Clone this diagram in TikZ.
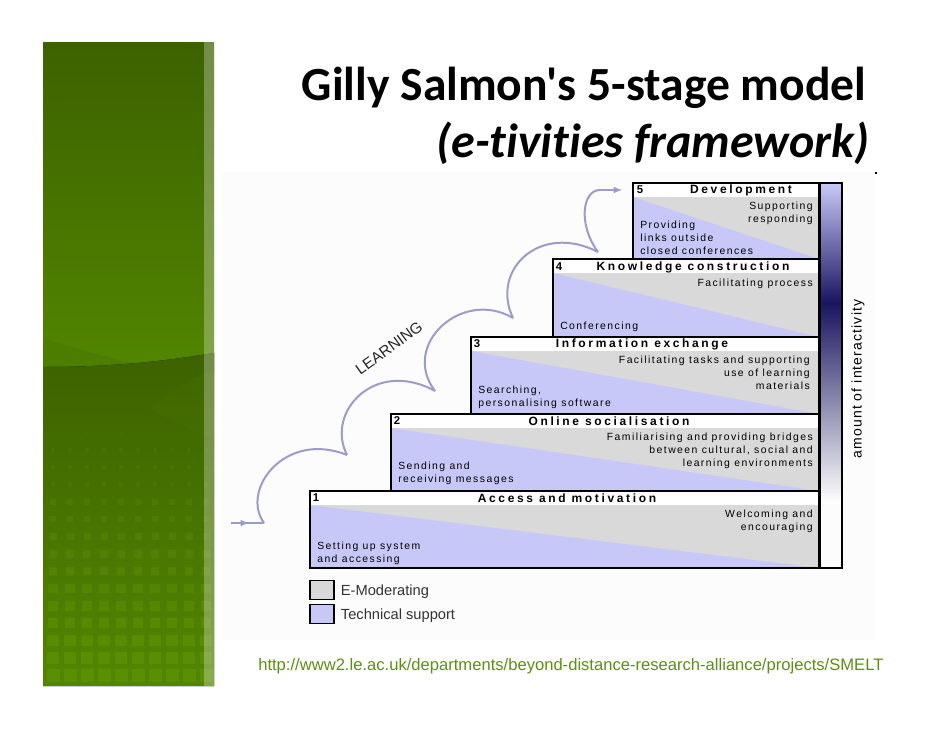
\documentclass[tikz,border=0pt]{standalone}
\usepackage{fontspec}
\setmainfont{Liberation Sans}
\newfontfamily\titlefont[Ligatures=NoCommon]{Carlito}
\newfontfamily\stagefont[LetterSpace=14]{Liberation Sans}
\newfontfamily\headfont[LetterSpace=22]{Liberation Sans}
\newfontfamily\barfont[LetterSpace=8]{Liberation Sans}
\usetikzlibrary{arrows.meta}
\definecolor{panelgreen}{HTML}{528600}
\definecolor{paneldark}{HTML}{3D6200}
\definecolor{panelspot}{HTML}{6FA50A}
\definecolor{emodgrey}{HTML}{D9D9D9}
\definecolor{techblue}{HTML}{C8C8F8}
\definecolor{barnavy}{HTML}{1A1560}
\definecolor{learnblue}{HTML}{9C9CC8}
\definecolor{urlgreen}{HTML}{5E8E14}
\begin{document}
\begin{tikzpicture}
	[x=0.75pt, y=-0.75pt,
	stageframe/.style = {draw=black, line width=1pt},
	stagehead/.style = {inner sep=0pt, font={\headfont\bfseries\fontsize{9}{10}\selectfont}},
	stagenum/.style = {inner sep=0pt, font={\bfseries\fontsize{8.5}{10}\selectfont}},
	moderating/.style = {inner sep=0pt, anchor=north east, align=right, font={\stagefont\fontsize{7.8}{9.75}\selectfont}},
	technical/.style = {inner sep=0pt, anchor=north west, align=left, font={\stagefont\fontsize{7.8}{9.75}\selectfont}},
	legendbox/.style = {draw=black, line width=1pt, minimum width=18pt, minimum height=14pt, inner sep=0pt},
	legendtext/.style = {inner sep=0pt, anchor=west, text=black!80, font={\fontsize{11}{13}\selectfont}},
	learnline/.style = {draw=learnblue, line width=1.5pt}]
	\useasboundingbox (0,0) rectangle (942,728);
	\fill[top color=paneldark, bottom color=panelgreen] (43,42) rectangle (214,372);
	\fill[paneldark, opacity=0.2] (43,338) .. controls (80,350) and (110,358) .. (135,364) -- (43,368) -- cycle;
	\fill[top color=paneldark, middle color=paneldark!85!panelgreen, bottom color=panelgreen] (43,367) .. controls (110,367) and (160,362) .. (214,353) -- (214,686) -- (43,686) -- cycle;
	\fill[panelgreen, opacity=0.12] (214,369) .. controls (190,378) and (165,395) .. (150,410) -- (214,440) -- cycle;
	\foreach \row in {0,...,14}
		\foreach \col in {0,...,9}{
			\pgfmathsetmacro{\spotsize}{13-\row*0.75}
			\pgfmathsetmacro{\spotfade}{0.34-\row*0.018}
			\fill[panelspot, opacity=\spotfade] (53+\col*17-\spotsize/2,675-\row*17.3-\spotsize/2) rectangle ++(\spotsize,\spotsize);
		}
	\fill[white, opacity=0.28] (204,42) rectangle (214,686);
	\fill[black!1] (222,172) rectangle (875,640);
	\node[inner sep=0pt, anchor=base, font={\titlefont\bfseries\fontsize{35.7}{40}\selectfont}] (titleone) at (584,100) {Gilly Salmon's 5-stage model};
	\node[inner sep=0pt, anchor=base, font={\titlefont\bfseries\itshape\fontsize{36}{40}\selectfont}] (titletwo) at (653,157) {(e-tivities framework)};
	\fill[black] (875,172) rectangle (877,174);
	\foreach \stageleft/\stagetop/\stagebottom in {310/491/568, 391/414/491, 471/337/414, 553/259/337, 633/183/259}{
		\fill[white] (\stageleft,\stagetop) rectangle (819,\stagetop+14);
		\fill[emodgrey] (\stageleft,\stagetop+14) rectangle (819,\stagebottom);
		\fill[techblue] (\stageleft,\stagetop+14) -- (819,\stagebottom) -- (\stageleft,\stagebottom) -- cycle;
		\draw[stageframe] (\stageleft,\stagetop) rectangle (819,\stagebottom);
	}
	\fill[top color=techblue, bottom color=barnavy] (821,183) rectangle (842,303);
	\fill[top color=barnavy, bottom color=white] (821,303) rectangle (842,503);
	\draw[stageframe] (820,183) rectangle (842,568);
	\node[stagenum] (numone) at (316,498) {1};
	\node[stagenum] (numtwo) at (397,421) {2};
	\node[stagenum] (numthree) at (477,344) {3};
	\node[stagenum] (numfour) at (559,267) {4};
	\node[stagenum] (numfive) at (640,190) {5};
	\node[stagehead] (headone) at (567,498) {Access and motivation};
	\node[stagehead] (headtwo) at (609,421) {Online socialisation};
	\node[stagehead] (headthree) at (642,344) {Information exchange};
	\node[stagehead] (headfour) at (693,267) {Knowledge construction};
	\node[stagehead] (headfive) at (741,190) {Development};
	\node[moderating] (modone) at (813,510) {Welcoming and\\encouraging};
	\node[moderating] (modtwo) at (813,433) {Familiarising and providing bridges\\between cultural, social and\\learning environments};
	\node[moderating] (modthree) at (810,356) {Facilitating tasks and supporting\\use of learning\\materials};
	\node[moderating] (modfour) at (813,279) {Facilitating process};
	\node[moderating] (modfive) at (813,202) {Supporting\\responding};
	\node[technical] (techone) at (317,542) {Setting up system\\and accessing};
	\node[technical] (techtwo) at (398,462) {Sending and\\receiving messages};
	\node[technical] (techthree) at (478,386) {Searching,\\personalising software};
	\node[technical] (techfour) at (560,322) {Conferencing};
	\node[technical] (techfive) at (640,221) {Providing\\links outside\\closed conferences};
	\node[inner sep=0pt, rotate=90, font={\barfont\fontsize{10.5}{12}\selectfont}] (barlabel) at (858,379) {amount of interactivity};
	\node[inner sep=0pt, rotate=36, text=black!85, font={\fontsize{11.5}{13}\selectfont}] (learning) at (389,348) {LEARNING};
	\node[legendbox, fill=emodgrey] (legendmod) at (322,590) {};
	\node[legendbox, fill=techblue] (legendtech) at (322,614) {};
	\node[legendtext, right=4.5pt, yshift=-1.5pt] at (legendmod.east) (legendmodtext) {E-Moderating};
	\node[legendtext, right=4.5pt, yshift=-1.5pt] at (legendtech.east) (legendtechtext) {Technical support};
	\coordinate (entry) at (231,523);
	\coordinate (entrymark) at (250,523);
	\coordinate (turnone) at (264,523);
	\coordinate (turntwo) at (347,455);
	\coordinate (turnthree) at (435,391);
	\coordinate (turnfour) at (513,318);
	\coordinate (turnfive) at (598,252);
	\coordinate (leaving) at (600,190);
	\coordinate (arrival) at (623,190);
	\draw[learnline] (entry) -- (turnone);
	\draw[learnline, -{Latex[length=7pt,width=5pt]}] (entry) -- (entrymark);
	\draw[learnline] (turnone) .. controls (240,490) and (285,430) .. (turntwo);
	\draw[learnline] (turntwo) .. controls (325,412) and (375,358) .. (turnthree);
	\draw[learnline] (turnthree) .. controls (400,345) and (462,288) .. (turnfour);
	\draw[learnline] (turnfour) .. controls (490,270) and (540,222) .. (turnfive);
	\draw[learnline] (turnfive) .. controls (578,225) and (582,190) .. (leaving);
	\draw[learnline, -{Latex[length=7pt,width=5pt]}] (leaving) -- (arrival);
	\node[inner sep=0pt, anchor=base west, text=urlgreen, font={\fontsize{12.45}{14}\selectfont}] (urlline) at (258,670) {http://www2.le.ac.uk/departments/beyond-distance-research-alliance/projects/SMELT};
\end{tikzpicture}
\end{document}
